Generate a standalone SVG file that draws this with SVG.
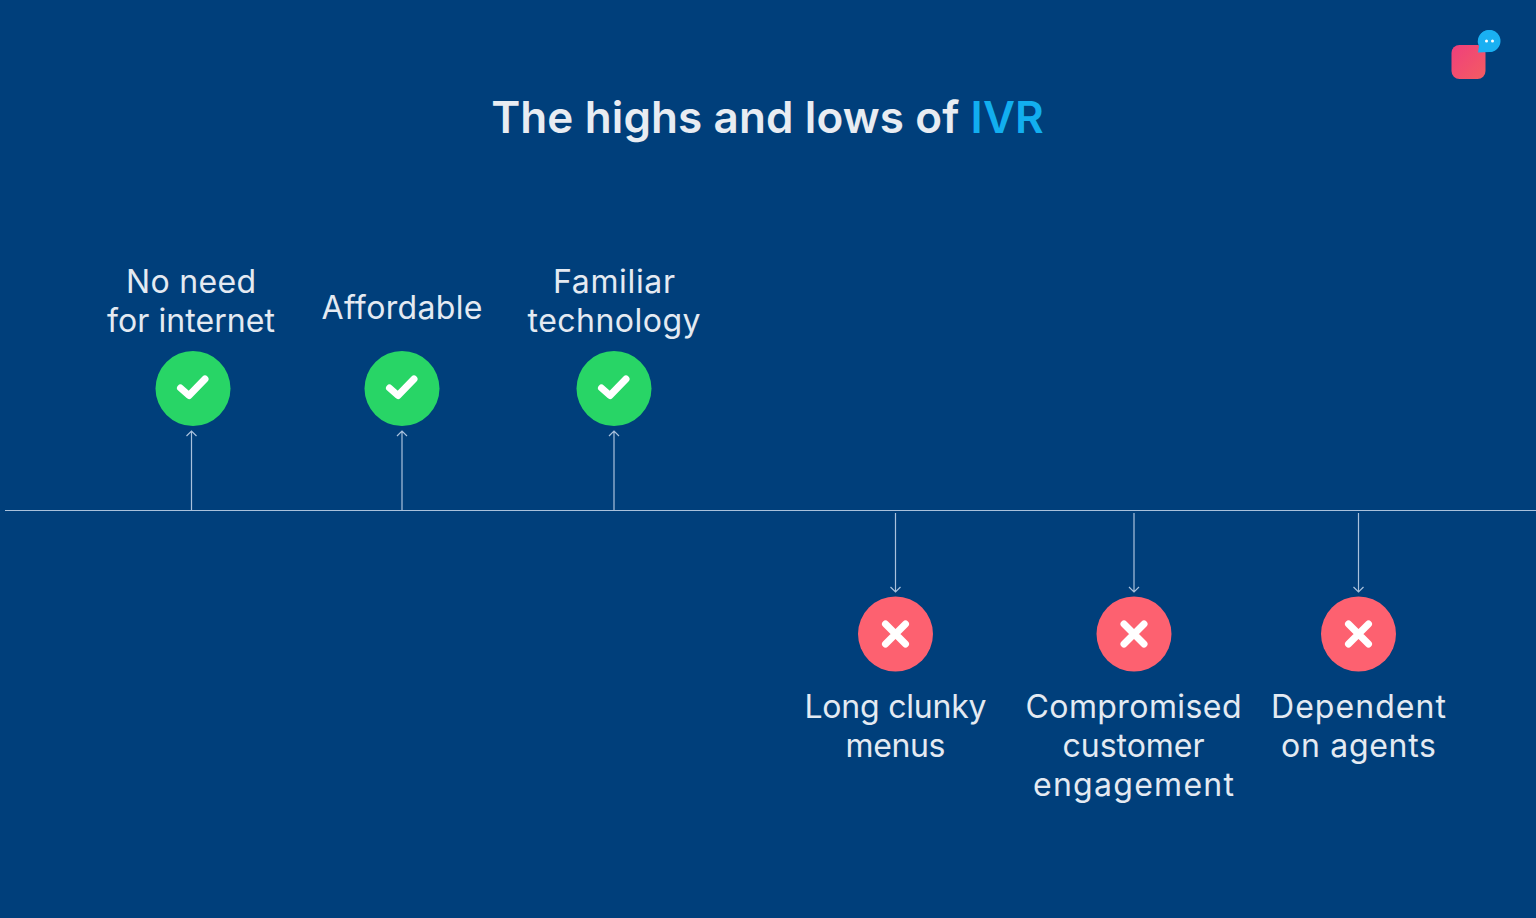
<svg xmlns="http://www.w3.org/2000/svg" width="1536" height="918" viewBox="0 0 1536 918">
<style>
.t{font-family:"Inter","Noto Sans",sans-serif;font-size:32px;fill:#e4eaf2;text-anchor:middle}
.h{font-family:"Inter","Noto Sans",sans-serif;font-size:44px;font-weight:600;letter-spacing:.12px;fill:#e8ecf2;text-anchor:middle}
.c{fill:none;stroke:#a9c1dc;stroke-width:1.2}
.m{fill:none;stroke:#fff;stroke-width:7;stroke-linecap:round;stroke-linejoin:round}
</style>
<defs>
<linearGradient id="g" x1="0" y1="0" x2="1" y2="1"><stop offset="0" stop-color="#ef3f7c"/><stop offset="1" stop-color="#f45c62"/></linearGradient>
</defs>
<rect width="1536" height="918" fill="#003f7b"/>
<g id="logo">
<rect x="1451.500" y="45" width="34" height="34" rx="8" fill="url(#g)"/>
<path d="M1479 46 A11 11 0 1 1 1489.500 52 L1478 52.500Z" fill="#1ab0f2"/>
<circle cx="1489.500" cy="41" r="11" fill="#1ab0f2"/>
<circle cx="1486.500" cy="41" r="1.500" fill="#fff"/><circle cx="1492.500" cy="41" r="1.500" fill="#fff"/>
</g>
<text id="title" class="h" x="767.500" y="133">The highs and lows of <tspan fill="#12aeef">IVR</tspan></text>
<g id="connectors">
<path class="c" d="M5 510.500H1536"/>
<path class="c" d="M191.500 510V431M186.500 436L191.500 431L196.500 436"/>
<path class="c" d="M402 510V431M397 436L402 431L407 436"/>
<path class="c" d="M614 510V431M609 436L614 431L619 436"/>
<path class="c" d="M895.500 513V592M890.500 587L895.500 592L900.500 587"/>
<path class="c" d="M1134 513V592M1129 587L1134 592L1139 587"/>
<path class="c" d="M1358.500 513V592M1353.500 587L1358.500 592L1363.500 587"/>
</g>
<g id="high1"><text class="t" x="191" y="293" textLength="130">No need</text><text class="t" x="191" y="332" textLength="168">for internet</text><circle cx="193" cy="388.500" r="37.500" fill="#28d566"/><path class="m" d="M180.500 388L189 395.500L205 379"/></g>
<g id="high2"><text class="t" x="402" y="319" textLength="161">Affordable</text><circle cx="402" cy="388.500" r="37.500" fill="#28d566"/><path class="m" d="M389.500 388L398 395.500L414 379"/></g>
<g id="high3"><text class="t" x="614" y="293" textLength="122">Familiar</text><text class="t" x="614" y="332" textLength="173">technology</text><circle cx="614" cy="388.500" r="37.500" fill="#28d566"/><path class="m" d="M601.500 388L610 395.500L626 379"/></g>
<g id="low1"><circle cx="895.500" cy="634" r="37.500" fill="#fd6170"/><path class="m" d="M885.500 624L905.500 644M905.500 624L885.500 644"/><text class="t" x="895.500" y="718" textLength="182">Long clunky</text><text class="t" x="895.500" y="757" textLength="100">menus</text></g>
<g id="low2"><circle cx="1134" cy="634" r="37.500" fill="#fd6170"/><path class="m" d="M1124 624L1144 644M1144 624L1124 644"/><text class="t" x="1133.500" y="718" textLength="216">Compromised</text><text class="t" x="1133.500" y="757" textLength="142">customer</text><text class="t" x="1133.500" y="796" textLength="201">engagement</text></g>
<g id="low3"><circle cx="1358.500" cy="634" r="37.500" fill="#fd6170"/><path class="m" d="M1348.500 624L1368.500 644M1368.500 624L1348.500 644"/><text class="t" x="1358.500" y="718" textLength="175">Dependent</text><text class="t" x="1358.500" y="757" textLength="155">on agents</text></g>
</svg>
